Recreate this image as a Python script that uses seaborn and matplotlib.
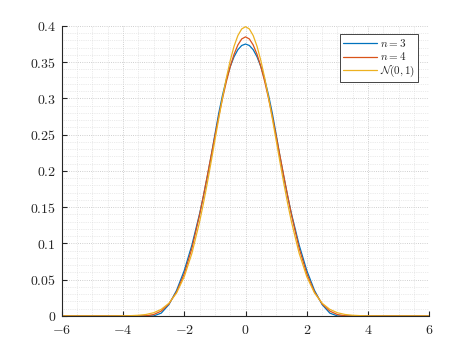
import matplotlib
matplotlib.use("Agg")
import matplotlib.pyplot as plt
import seaborn as sns
import pandas as pd
from matplotlib.ticker import MultipleLocator, FixedLocator

x = [-6, -5, -4.5, -4, -3.75, -3.5, -3.25, -3, -2.75, -2.5, -2.25, -2, -1.75, -1.5,
     -1.375, -1.25, -1.125, -1, -0.875, -0.75, -0.625, -0.5, -0.375, -0.25, -0.125, 0,
     0.125, 0.25, 0.375, 0.5, 0.625, 0.75, 0.875, 1, 1.125, 1.25, 1.375, 1.5,
     1.75, 2, 2.25, 2.5, 2.75, 3, 3.25, 3.5, 3.75, 4, 4.5, 5, 6]
n3 = [0, 0, 0, 0, 0, 0, 0, 0, 0.0039, 0.0156, 0.0352, 0.0625, 0.0977, 0.1406,
      0.1650, 0.1914, 0.2197, 0.25, 0.2793, 0.3047, 0.3262, 0.3438, 0.3574, 0.3672, 0.3730, 0.375,
      0.3730, 0.3672, 0.3574, 0.3438, 0.3262, 0.3047, 0.2793, 0.25, 0.2197, 0.1914, 0.1650, 0.1406,
      0.0977, 0.0625, 0.0352, 0.0156, 0.0039, 0, 0, 0, 0, 0, 0, 0, 0]
n4 = [0, 0, 0, 0, 0, 0, 0.0002, 0.0019, 0.0067, 0.0166, 0.0331, 0.0581, 0.0933, 0.1394,
      0.1655, 0.1927, 0.2204, 0.2480, 0.2748, 0.3001, 0.3233, 0.3437, 0.3608, 0.3737, 0.3820, 0.3849,
      0.3820, 0.3737, 0.3608, 0.3437, 0.3233, 0.3001, 0.2748, 0.2480, 0.2204, 0.1927, 0.1655, 0.1394,
      0.0933, 0.0581, 0.0331, 0.0166, 0.0067, 0.0019, 0.0002, 0, 0, 0, 0, 0, 0]
normal = [0, 0.0000, 0.0000, 0.0001, 0.0004, 0.0009, 0.0020, 0.0044, 0.0091, 0.0175, 0.0317,
          0.0540, 0.0863, 0.1295,
          0.1550, 0.1826, 0.2119, 0.2420, 0.2721, 0.3011, 0.3282, 0.3521, 0.3719, 0.3867, 0.3958, 0.3989,
          0.3958, 0.3867, 0.3719, 0.3521, 0.3282, 0.3011, 0.2721, 0.2420, 0.2119, 0.1826, 0.1550, 0.1295,
          0.0863, 0.0540, 0.0317, 0.0175, 0.0091, 0.0044, 0.0020, 0.0009, 0.0004, 0.0001,
          0.0000, 0.0000, 0]
labels = [r"$n=3$", r"$n=4$", r"$\mathcal{N}(0,1)$"]
colors = ["#0072BD", "#D95319", "#EDB120"]
xticks = [-6, -4, -2, 0, 2, 4, 6]
xticklabels = ["-6", "-4", "-2", "0", "2", "4", "6"]
yticks = [0, 0.05, 0.1, 0.15, 0.2, 0.25, 0.3, 0.35, 0.4]
yticklabels = ["0", "0.05", "0.1", "0.15", "0.2", "0.25", "0.3", "0.35", "0.4"]

sns.set_style("white")
plt.rcParams["mathtext.fontset"] = "cm"
plt.rcParams["font.family"] = ["DejaVu Serif"]

fig = plt.figure(figsize=(4.74, 3.55), dpi=100)
ax = fig.add_axes([0.13, 0.11, 0.776, 0.817])

df = pd.DataFrame({"x": x * 3, "y": n3 + n4 + normal,
                   "series": [labels[0]] * len(x) + [labels[1]] * len(x) + [labels[2]] * len(x)})
sns.lineplot(data=df, x="x", y="y", hue="series", palette=colors, ax=ax,
             linewidth=0.9, sort=False, legend=True)

ax.set_xlim(-6, 6)
ax.set_ylim(0, 0.4)
ax.xaxis.set_major_locator(FixedLocator(xticks))
ax.yaxis.set_major_locator(FixedLocator(yticks))
ax.set_xticklabels(["$" + t + "$" for t in xticklabels])
ax.set_yticklabels(["$" + t + "$" for t in yticklabels])
ax.xaxis.set_minor_locator(MultipleLocator(0.5))
ax.yaxis.set_minor_locator(MultipleLocator(0.01))
ax.set_xlabel("")
ax.set_ylabel("")

ax.grid(True, which="major", linestyle=":", color="#c0c0c0", linewidth=0.6)
ax.grid(True, which="minor", linestyle=":", color="#d8d8d8", linewidth=0.5)
ax.set_axisbelow(True)

for s in ["top", "right"]:
    ax.spines[s].set_visible(False)
for s in ["left", "bottom"]:
    ax.spines[s].set_color("#262626")
    ax.spines[s].set_linewidth(0.8)
ax.tick_params(axis="x", which="major", pad=5)
ax.tick_params(axis="y", which="major", pad=4)
ax.tick_params(axis="both", which="major", direction="in", length=3.5, width=0.8,
               colors="#262626", labelsize=10, left=True, bottom=True)
ax.tick_params(axis="both", which="minor", length=0, left=False, bottom=False)

leg = ax.legend(loc="upper right", bbox_to_anchor=(0.970, 0.972), fontsize=8,
                frameon=True, fancybox=False, handlelength=3.0, borderpad=0.3,
                labelspacing=0.1, handletextpad=0.3, borderaxespad=0.0)
leg.get_frame().set_edgecolor("#262626")
leg.get_frame().set_linewidth(0.6)
leg.get_frame().set_alpha(1.0)

fig.savefig("out.png", dpi=100)
